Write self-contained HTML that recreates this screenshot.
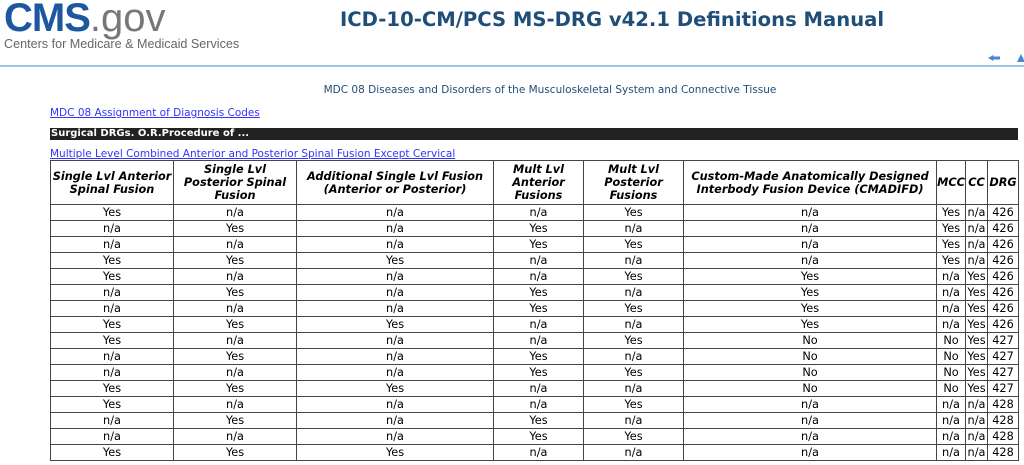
<!DOCTYPE html>
<html><head><meta charset="utf-8">
<style>
*{box-sizing:border-box}
body{margin:0;width:1024px;height:465px;background:#fff;font-family:"DejaVu Sans",Verdana,sans-serif;position:relative;overflow:hidden}
.abs{position:absolute}
.logo{left:4px;top:-4px;font-family:"Liberation Sans",sans-serif;font-size:40px;color:#1d57a0;font-weight:bold;letter-spacing:-1px}
.logo span{font-weight:normal;color:#777;letter-spacing:0}
.sub{left:4px;top:37px;font-family:"Liberation Sans",sans-serif;font-size:12.6px;color:#666}
.title{left:340px;top:8px;font-size:19.6px;font-weight:bold;color:#1f4e79;white-space:nowrap}
.rule{left:0;top:65px;width:1024px;height:2px;background:#9cc7e8}
.mdc{left:0;width:1100px;top:84px;text-align:center;font-size:10.5px;color:#1f4e79}
a{color:#3333ff;text-decoration:underline;font-size:10.5px}
.bar{left:50px;top:128px;width:968px;height:12px;background:#222;color:#fff;font-size:10px;font-weight:bold;line-height:12px;padding-left:1px}
table{position:absolute;left:50px;top:160px;border-collapse:collapse;table-layout:fixed;width:968px}
td,th{border:1px solid #444;padding:0;text-align:center;font-size:11.3px;height:16px;line-height:14px;white-space:nowrap}
th{font-style:italic;font-weight:bold;height:44px;line-height:13px;white-space:normal;font-size:11.3px}
</style></head><body>
<div class="abs logo">CMS<span>.gov</span></div>
<div class="abs sub">Centers for Medicare &amp; Medicaid Services</div>
<div class="abs title">ICD-10-CM/PCS MS-DRG v42.1 Definitions Manual</div>
<div class="abs" style="left:988px;top:55px;width:12px;height:6px;background:#4a86d6;clip-path:polygon(0 50%,45% 0,45% 25%,100% 25%,100% 75%,45% 75%,45% 100%)"></div>
<div class="abs" style="left:1017px;top:54px;width:8px;height:8px;background:#4a86d6;clip-path:polygon(50% 0,100% 100%,0 100%)"></div>
<div class="abs rule"></div>
<div class="abs mdc">MDC 08 Diseases and Disorders of the Musculoskeletal System and Connective Tissue</div>
<a class="abs" style="left:50px;top:107px">MDC 08 Assignment of Diagnosis Codes</a>
<div class="abs bar">Surgical DRGs. O.R.Procedure of ...</div>
<a class="abs" style="left:50px;top:148px">Multiple Level Combined Anterior and Posterior Spinal Fusion Except Cervical</a>
<table>
<colgroup><col style="width:123px"><col style="width:123px"><col style="width:197px"><col style="width:90px"><col style="width:100px"><col style="width:253px"><col style="width:29px"><col style="width:22px"><col style="width:31px"></colgroup>
<tr>
<th>Single Lvl Anterior Spinal Fusion</th>
<th>Single Lvl Posterior Spinal Fusion</th>
<th>Additional Single Lvl Fusion (Anterior or Posterior)</th>
<th>Mult Lvl Anterior Fusions</th>
<th>Mult Lvl Posterior Fusions</th>
<th>Custom-Made Anatomically Designed Interbody Fusion Device (CMADIFD)</th>
<th>MCC</th>
<th>CC</th>
<th>DRG</th>
</tr>
<tr><td>Yes</td><td>n/a</td><td>n/a</td><td>n/a</td><td>Yes</td><td>n/a</td><td>Yes</td><td>n/a</td><td>426</td></tr>
<tr><td>n/a</td><td>Yes</td><td>n/a</td><td>Yes</td><td>n/a</td><td>n/a</td><td>Yes</td><td>n/a</td><td>426</td></tr>
<tr><td>n/a</td><td>n/a</td><td>n/a</td><td>Yes</td><td>Yes</td><td>n/a</td><td>Yes</td><td>n/a</td><td>426</td></tr>
<tr><td>Yes</td><td>Yes</td><td>Yes</td><td>n/a</td><td>n/a</td><td>n/a</td><td>Yes</td><td>n/a</td><td>426</td></tr>
<tr><td>Yes</td><td>n/a</td><td>n/a</td><td>n/a</td><td>Yes</td><td>Yes</td><td>n/a</td><td>Yes</td><td>426</td></tr>
<tr><td>n/a</td><td>Yes</td><td>n/a</td><td>Yes</td><td>n/a</td><td>Yes</td><td>n/a</td><td>Yes</td><td>426</td></tr>
<tr><td>n/a</td><td>n/a</td><td>n/a</td><td>Yes</td><td>Yes</td><td>Yes</td><td>n/a</td><td>Yes</td><td>426</td></tr>
<tr><td>Yes</td><td>Yes</td><td>Yes</td><td>n/a</td><td>n/a</td><td>Yes</td><td>n/a</td><td>Yes</td><td>426</td></tr>
<tr><td>Yes</td><td>n/a</td><td>n/a</td><td>n/a</td><td>Yes</td><td>No</td><td>No</td><td>Yes</td><td>427</td></tr>
<tr><td>n/a</td><td>Yes</td><td>n/a</td><td>Yes</td><td>n/a</td><td>No</td><td>No</td><td>Yes</td><td>427</td></tr>
<tr><td>n/a</td><td>n/a</td><td>n/a</td><td>Yes</td><td>Yes</td><td>No</td><td>No</td><td>Yes</td><td>427</td></tr>
<tr><td>Yes</td><td>Yes</td><td>Yes</td><td>n/a</td><td>n/a</td><td>No</td><td>No</td><td>Yes</td><td>427</td></tr>
<tr><td>Yes</td><td>n/a</td><td>n/a</td><td>n/a</td><td>Yes</td><td>n/a</td><td>n/a</td><td>n/a</td><td>428</td></tr>
<tr><td>n/a</td><td>Yes</td><td>n/a</td><td>Yes</td><td>n/a</td><td>n/a</td><td>n/a</td><td>n/a</td><td>428</td></tr>
<tr><td>n/a</td><td>n/a</td><td>n/a</td><td>Yes</td><td>Yes</td><td>n/a</td><td>n/a</td><td>n/a</td><td>428</td></tr>
<tr><td>Yes</td><td>Yes</td><td>Yes</td><td>n/a</td><td>n/a</td><td>n/a</td><td>n/a</td><td>n/a</td><td>428</td></tr>
</table>
</body></html>
